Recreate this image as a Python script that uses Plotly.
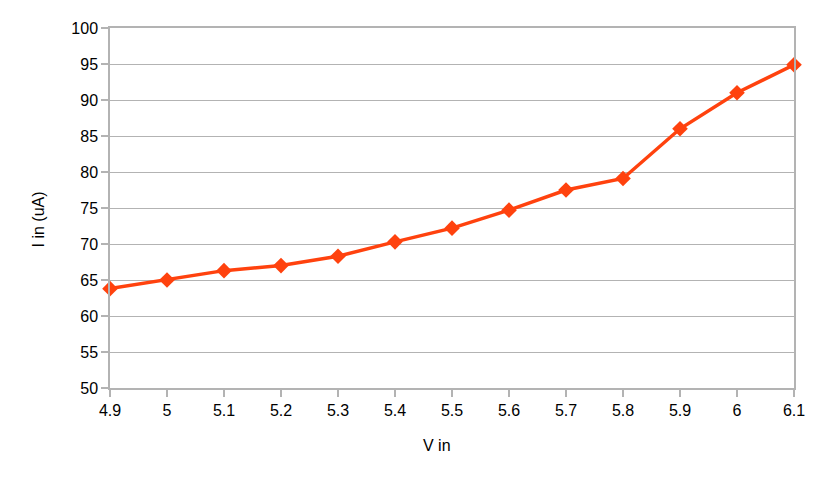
import plotly.graph_objects as go

v_in = [4.9, 5.0, 5.1, 5.2, 5.3, 5.4, 5.5, 5.6, 5.7, 5.8, 5.9, 6.0, 6.1]
i_in = [63.8, 65.0, 66.3, 67.0, 68.3, 70.3, 72.2, 74.7, 77.5, 79.1, 86.0, 91.0, 94.9]

x_ticks = [4.9, 5.0, 5.1, 5.2, 5.3, 5.4, 5.5, 5.6, 5.7, 5.8, 5.9, 6.0, 6.1]
x_labels = ["4.9", "5", "5.1", "5.2", "5.3", "5.4", "5.5", "5.6", "5.7", "5.8", "5.9", "6", "6.1"]

x_title = "V in"
y_title = "I in (uA)"

FONT = "Liberation Sans, Arial"

fig = go.Figure()
fig.add_trace(go.Scatter(
    x=v_in, y=i_in, mode="lines+markers",
    line=dict(color="#ff420e", width=3.5),
    marker=dict(symbol="diamond", size=12, color="#ff420e"),
    showlegend=False, cliponaxis=False,
))

axis_common = dict(
    showline=True, linecolor="#b3b3b3", linewidth=1.5, mirror=True,
    ticks="outside", ticklen=7, tickcolor="#b3b3b3", tickwidth=1.5,
    tickfont=dict(family=FONT, size=16, color="#000"),
    zeroline=False,
)

fig.update_xaxes(
    range=[4.9, 6.1], tickvals=x_ticks, ticktext=x_labels, showgrid=False,
    **axis_common,
)
fig.update_yaxes(
    range=[50, 100], dtick=5, showgrid=True, gridcolor="#b3b3b3", gridwidth=1,
    **axis_common,
)

# plot area spans 684 x 362 px; titles placed by paper coords
W, H = 684.0, 362.0
fig.add_annotation(
    text=x_title, xref="paper", yref="paper",
    x=(437 - 110) / W, y=-(446 - 388) / H, showarrow=False,
    xanchor="center", yanchor="middle",
    font=dict(family=FONT, size=16, color="#000"),
)
fig.add_annotation(
    text=y_title, xref="paper", yref="paper",
    x=-(110 - 38.5) / W, y=(388 - 219) / H, showarrow=False, textangle=-90,
    xanchor="center", yanchor="middle",
    font=dict(family=FONT, size=16, color="#000"),
)

fig.update_layout(
    width=826, height=481,
    margin=dict(l=102, r=40, t=18, b=101),
    paper_bgcolor="white", plot_bgcolor="white",
)

fig.write_html("out.html")
